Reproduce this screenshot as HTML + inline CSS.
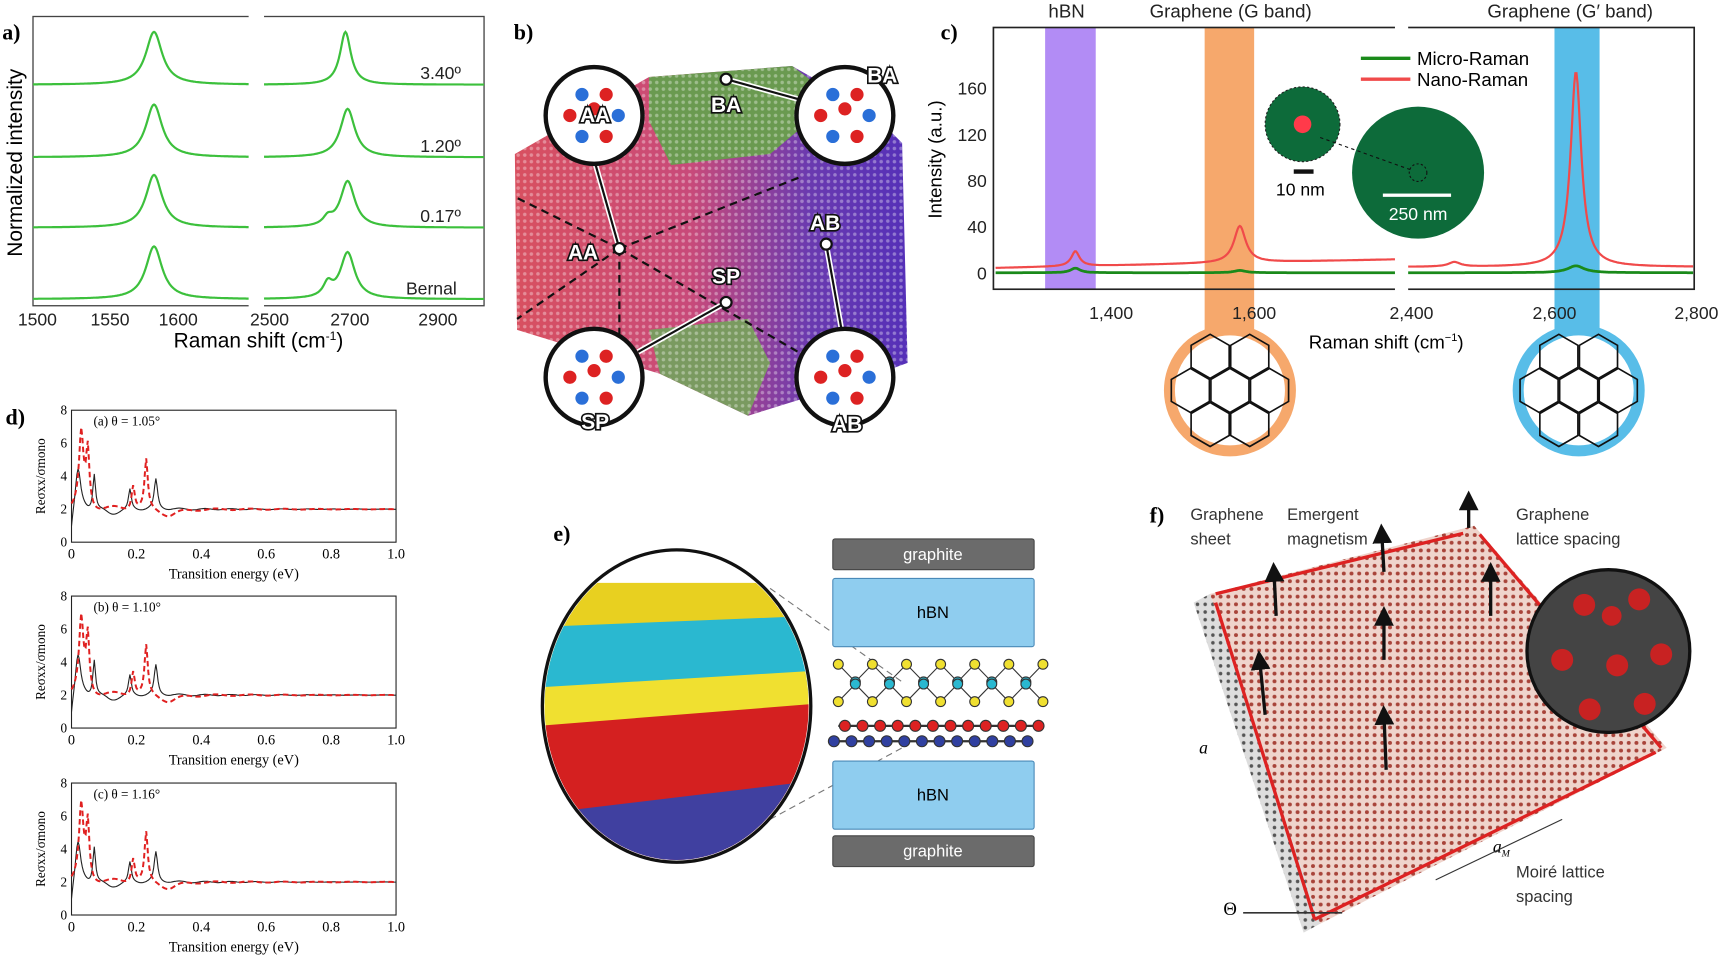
<!DOCTYPE html>
<html><head><meta charset="utf-8"><style>
html,body{margin:0;padding:0;background:#fff;width:1725px;height:959px;overflow:hidden}
svg{display:block}
text{font-family:"Liberation Sans",sans-serif}
.s{font-family:"Liberation Serif",serif}
</style></head><body>
<svg id="g" width="1725" height="959" viewBox="0 0 1568 872" preserveAspectRatio="none" xmlns="http://www.w3.org/2000/svg">
<defs>
<pattern id="dots" width="6" height="6" patternUnits="userSpaceOnUse"><circle cx="3" cy="3" r="1.6" fill="#fff" opacity="0.35"/></pattern>
<pattern id="pk" width="7" height="7" patternUnits="userSpaceOnUse"><rect width="7" height="7" fill="#efd4cc"/><circle cx="3.5" cy="3.5" r="1.8" fill="#a8443a"/></pattern>
<pattern id="gr" width="7" height="7" patternUnits="userSpaceOnUse"><rect width="7" height="7" fill="#ddd"/><circle cx="3.5" cy="3.5" r="1.6" fill="#555"/></pattern>
<linearGradient id="hx" x1="0" x2="1" y1="0" y2="0"><stop offset="0" stop-color="#d85060"/><stop offset="0.45" stop-color="#c84a7a"/><stop offset="0.75" stop-color="#6a3ab0"/><stop offset="1" stop-color="#5530b8"/></linearGradient>
<marker id="ah" markerWidth="6" markerHeight="6" refX="3" refY="3" orient="auto"><path d="M0,0 L6,3 L0,6 Z" fill="#111"/></marker>
</defs>
<!-- panel a -->
<text x="2" y="36" class="s" font-size="20" font-weight="bold">a)</text>
<rect x="30" y="15" width="410" height="263" fill="none" stroke="#444" stroke-width="1.2"/>
<rect x="226" y="10" width="14" height="272" fill="#fff"/>
<g id="acurves"></g>
<g font-size="16" fill="#222"><text x="382" y="72">3.40º</text><text x="382" y="138">1.20º</text><text x="382" y="202">0.17º</text><text x="369" y="268">Bernal</text></g>
<g font-size="16" fill="#222" text-anchor="middle"><text x="34" y="296">1500</text><text x="100" y="296">1550</text><text x="162" y="296">1600</text><text x="245" y="296">2500</text><text x="318" y="296">2700</text><text x="398" y="296">2900</text></g>
<text x="235" y="316" font-size="19" text-anchor="middle">Raman shift (cm<tspan font-size="11" dy="-7">-1</tspan><tspan dy="7">)</tspan></text>
<text transform="translate(20,148) rotate(-90)" font-size="19" text-anchor="middle">Normalized intensity</text>
<!-- panel b -->
<text x="467" y="36" class="s" font-size="20" font-weight="bold">b)</text>
<polygon points="590,70 720,60 790,100 820,130 825,330 770,350 680,378 600,340 470,300 468,140" fill="url(#hx)"/>
<polygon points="590,70 720,60 760,90 700,140 610,150 590,110" fill="#6a9a50"/>
<polygon points="590,300 680,290 700,330 680,378 600,340" fill="#7a9a60"/>
<polygon points="590,70 720,60 790,100 820,130 825,330 770,350 680,378 600,340 470,300 468,140" fill="url(#dots)"/>
<g stroke="#111" stroke-width="2" stroke-dasharray="7,5" fill="none"><line x1="563" y1="226" x2="470" y2="180"/><line x1="563" y1="226" x2="470" y2="290"/><line x1="563" y1="226" x2="730" y2="160"/><line x1="563" y1="226" x2="760" y2="340"/><line x1="563" y1="226" x2="563" y2="370"/></g>
<g stroke="#fff" stroke-width="5"><line x1="540" y1="145" x2="563" y2="226"/><line x1="660" y1="72" x2="725" y2="90"/><line x1="660" y1="275" x2="580" y2="320"/><line x1="751" y1="222" x2="765" y2="300"/></g>
<g stroke="#111" stroke-width="2"><line x1="540" y1="145" x2="563" y2="226"/><line x1="660" y1="72" x2="725" y2="90"/><line x1="660" y1="275" x2="580" y2="320"/><line x1="751" y1="222" x2="765" y2="300"/></g>
<g fill="#fff" stroke="#111" stroke-width="2"><circle cx="563" cy="226" r="5"/><circle cx="660" cy="72" r="5"/><circle cx="660" cy="275" r="5"/><circle cx="751" cy="222" r="5"/></g>
<g id="bcirc"></g>
<g font-size="19" font-weight="bold" fill="#fff" stroke="#111" stroke-width="3" paint-order="stroke" text-anchor="middle">
<text x="541" y="111">AA</text><text x="802" y="75">BA</text><text x="660" y="102">BA</text><text x="530" y="236">AA</text><text x="660" y="258">SP</text><text x="750" y="209">AB</text><text x="541" y="390">SP</text><text x="770" y="392">AB</text></g>
<!-- panel c -->
<text x="855" y="36" class="s" font-size="20" font-weight="bold">c)</text>
<rect x="950" y="25" width="46" height="238" fill="#b28cf5"/>
<rect x="1095" y="25" width="45" height="238" fill="#f6a86c"/>
<rect x="1413" y="25" width="41" height="238" fill="#58bde8"/>
<rect x="1095" y="262" width="45" height="40" fill="#f6a86c"/>
<rect x="1413" y="262" width="41" height="40" fill="#58bde8"/>
<circle cx="1118" cy="355" r="55" fill="#fff" stroke="#f6a86c" stroke-width="10"/>
<circle cx="1435" cy="355" r="55" fill="#fff" stroke="#58bde8" stroke-width="10"/>
<g id="hexes"></g>
<rect x="903" y="25" width="637" height="238" fill="none" stroke="#222" stroke-width="1.5"/>
<rect x="1268" y="20" width="12" height="250" fill="#fff"/>
<g id="ccurves"></g>
<g font-size="17" fill="#222"><text x="953" y="16">hBN</text><text x="1045" y="16">Graphene (G band)</text><text x="1352" y="16">Graphene (G′ band)</text></g>
<g font-size="16" fill="#222" text-anchor="end"><text x="897" y="86">160</text><text x="897" y="128">120</text><text x="897" y="170">80</text><text x="897" y="212">40</text><text x="897" y="254">0</text></g>
<g font-size="16" fill="#222" text-anchor="middle"><text x="1010" y="290">1,400</text><text x="1140" y="290">1,600</text><text x="1283" y="290">2,400</text><text x="1413" y="290">2,600</text><text x="1542" y="290">2,800</text></g>
<text x="1260" y="317" font-size="17" text-anchor="middle">Raman shift (cm<tspan font-size="10" dy="-7">−1</tspan><tspan dy="7">)</tspan></text>
<text transform="translate(856,145) rotate(-90)" font-size="17" text-anchor="middle">Intensity (a.u.)</text>
<line x1="1237" y1="53" x2="1282" y2="53" stroke="#1a8a1a" stroke-width="3"/><text x="1288" y="59" font-size="17">Micro-Raman</text>
<line x1="1237" y1="72" x2="1282" y2="72" stroke="#f04a4a" stroke-width="3"/><text x="1288" y="78" font-size="17">Nano-Raman</text>
<circle cx="1184" cy="113" r="34" fill="#0d6b3a" stroke="#222" stroke-dasharray="2,2"/>
<circle cx="1184" cy="113" r="8" fill="#ff3a4a"/>
<circle cx="1289" cy="157" r="60" fill="#0d6b3a"/>
<circle cx="1289" cy="157" r="8" fill="none" stroke="#111" stroke-dasharray="2,2"/>
<line x1="1200" y1="125" x2="1284" y2="155" stroke="#111" stroke-dasharray="3,3"/>
<rect x="1176" y="154" width="18" height="4" fill="#111"/>
<text x="1182" y="178" font-size="16" text-anchor="middle">10 nm</text>
<rect x="1257" y="176" width="62" height="3" fill="#fff"/>
<text x="1289" y="200" font-size="16" fill="#fff" text-anchor="middle">250 nm</text>
<!-- panel d -->
<text x="5" y="386" class="s" font-size="20" font-weight="bold">d)</text>
<g id="dplots"></g>
<!-- panel e -->
<text x="503" y="492" class="s" font-size="20" font-weight="bold">e)</text>
<g stroke="#777" stroke-dasharray="6,4"><line x1="700" y1="535" x2="820" y2="620"/><line x1="700" y1="745" x2="820" y2="680"/></g>
<ellipse cx="615" cy="642" rx="122" ry="142" fill="#fff" stroke="#111" stroke-width="3"/>
<clipPath id="ec"><ellipse cx="615" cy="642" rx="120" ry="140"/></clipPath>
<g clip-path="url(#ec)">
<rect x="490" y="500" width="260" height="290" fill="#fff"/>
<polygon points="490,530 740,530 740,600 490,620" fill="#e8d020"/>
<polygon points="490,570 740,560 740,630 490,640" fill="#2ab8d0"/>
<polygon points="490,625 740,610 740,650 490,680" fill="#f0e030"/>
<polygon points="490,660 740,640 740,730 490,740" fill="#d42020"/>
<rect x="490" y="700" width="260" height="90" fill="#d42020"/>
<polygon points="490,740 740,710 740,790 490,790" fill="#4040a0"/>
</g>
<rect x="757" y="490" width="183" height="28" rx="2" fill="#6b6b6b" stroke="#444"/><text x="848" y="509" font-size="15" fill="#fff" text-anchor="middle">graphite</text>
<rect x="757" y="526" width="183" height="62" rx="2" fill="#8fcdef" stroke="#4a8ab8"/><text x="848" y="562" font-size="15" text-anchor="middle">hBN</text>
<g id="elat"></g>
<rect x="757" y="692" width="183" height="62" rx="2" fill="#8fcdef" stroke="#4a8ab8"/><text x="848" y="728" font-size="15" text-anchor="middle">hBN</text>
<rect x="757" y="760" width="183" height="28" rx="2" fill="#6b6b6b" stroke="#444"/><text x="848" y="779" font-size="15" fill="#fff" text-anchor="middle">graphite</text>
<!-- panel f -->
<text x="1045" y="475" class="s" font-size="20" font-weight="bold">f)</text>
<polygon points="1085,548 1100,540 1200,840 1185,848" fill="url(#gr)"/>
<polygon points="1100,540 1340,478 1515,680 1200,840" fill="url(#pk)"/>
<g stroke="#d22" stroke-width="3" fill="#d22"><line x1="1105" y1="540" x2="1330" y2="485"/><line x1="1345" y1="486" x2="1510" y2="680"/><line x1="1195" y1="836" x2="1505" y2="684"/><line x1="1195" y1="836" x2="1105" y2="548"/></g>
<circle cx="1462" cy="592" r="74" fill="#444" stroke="#111" stroke-width="3"/>
<g fill="#c82222"><circle cx="1440" cy="550" r="10"/><circle cx="1490" cy="545" r="10"/><circle cx="1420" cy="600" r="10"/><circle cx="1470" cy="605" r="10"/><circle cx="1510" cy="595" r="10"/><circle cx="1445" cy="645" r="10"/><circle cx="1495" cy="640" r="10"/><circle cx="1465" cy="560" r="9"/></g>
<g stroke="#111" stroke-width="3" marker-end="url(#ah)"><line x1="1260" y1="700" x2="1258" y2="650"/><line x1="1150" y1="650" x2="1145" y2="600"/><line x1="1160" y1="560" x2="1158" y2="520"/><line x1="1258" y1="520" x2="1256" y2="485"/><line x1="1355" y1="560" x2="1355" y2="520"/><line x1="1258" y1="600" x2="1258" y2="560"/><line x1="1335" y1="480" x2="1335" y2="455"/></g>
<g font-size="15" fill="#333"><text x="1082" y="473">Graphene</text><text x="1082" y="495">sheet</text><text x="1170" y="473">Emergent</text><text x="1170" y="495">magnetism</text><text x="1378" y="473">Graphene</text><text x="1378" y="495">lattice spacing</text><text x="1378" y="798">Moiré lattice</text><text x="1378" y="820">spacing</text></g>
<text x="1090" y="685" class="s" font-size="16" font-style="italic">a</text>
<text x="1357" y="775" class="s" font-size="16" font-style="italic">a<tspan font-size="9" dy="4">M</tspan></text>
<text x="1112" y="832" class="s" font-size="17">Θ</text>
<line x1="1130" y1="830" x2="1220" y2="830" stroke="#333" stroke-width="1.5"/>
<line x1="1305" y1="800" x2="1420" y2="745" stroke="#333"/>
</svg>
<script>
var NS="http://www.w3.org/2000/svg";
function el(p,t,a){var e=document.createElementNS(NS,t);for(var k in a)e.setAttribute(k,a[k]);p.appendChild(e);return e}
function lor(x,c,w){return 1/(1+((x-c)/w)*((x-c)/w))}
var ga=document.getElementById('acurves');
[[77,1],[143,1],[207,2],[272,3]].forEach(function(b,i){
 var d="";for(var x=30;x<=226;x++){var y=b[0]-48*lor(x,140,9);d+=(x==30?"M":"L")+x+","+y.toFixed(1)}
 el(ga,'path',{d:d,fill:'none',stroke:'#3cc03c','stroke-width':2});
 d="";for(var x=240;x<=440;x++){var h;if(i==0)h=48*lor(x,314,6);else if(i==1)h=44*lor(x,316,8);else h=42*lor(x,316,8)+(b[1]==3?12:7)*lor(x,298,5);d+=(x==240?"M":"L")+x+","+(b[0]-h).toFixed(1)}
 el(ga,'path',{d:d,fill:'none',stroke:'#3cc03c','stroke-width':2});
});
var gb=document.getElementById('bcirc');
[[540,105],[768,105],[540,343],[768,343]].forEach(function(c){
 el(gb,'circle',{cx:c[0],cy:c[1],r:44,fill:'#fff',stroke:'#111','stroke-width':4});
 for(var k=0;k<6;k++){var a=k*Math.PI/3;el(gb,'circle',{cx:c[0]+22*Math.cos(a),cy:c[1]+22*Math.sin(a),r:6,fill:k%2?'#d22':'#2a6fd8'})}
 el(gb,'circle',{cx:c[0],cy:c[1]-6,r:6,fill:'#d22'});
});
var gc=document.getElementById('ccurves');
var base=248;
var d="",g="";for(var x=905;x<=1268;x++){var v=1400+(x-1010)/0.65;var r=5+4*(v-1300)/300+13*lor(v,1350,7)+32*lor(v,1580,10);var gg=4*lor(v,1350,8)+2*lor(v,1580,10);d+=(x==905?"M":"L")+x+","+(base-r*1.044).toFixed(1);g+=(x==905?"M":"L")+x+","+(base-gg*1.044).toFixed(1)}
el(gc,'path',{d:g,fill:'none',stroke:'#1a8a1a','stroke-width':2.5});el(gc,'path',{d:d,fill:'none',stroke:'#f04a4a','stroke-width':2});
d="";g="";for(var x=1280;x<=1539;x++){var v=2400+(x-1283)/0.65;var r=5+4*lor(v,2460,10)+170*lor(v,2630,9);var gg=6*lor(v,2630,14);d+=(x==1280?"M":"L")+x+","+(base-r*1.044).toFixed(1);g+=(x==1280?"M":"L")+x+","+(base-gg*1.044).toFixed(1)}
el(gc,'path',{d:g,fill:'none',stroke:'#1a8a1a','stroke-width':2.5});el(gc,'path',{d:d,fill:'none',stroke:'#f04a4a','stroke-width':2});
var gh=document.getElementById('hexes');
[[1118,355],[1435,355]].forEach(function(c){
 for(var i=-2;i<=2;i++)for(var j=-2;j<=2;j++){var hx=c[0]+i*36+(j%2?18:0),hy=c[1]+j*31;if(Math.hypot(hx-c[0],hy-c[1])>55)continue;var p="";for(var k=0;k<6;k++){var a=Math.PI/6+k*Math.PI/3;p+=(hx+20*Math.cos(a)).toFixed(1)+","+(hy+20*Math.sin(a)).toFixed(1)+" "}el(gh,'polygon',{points:p,fill:'none',stroke:'#111','stroke-width':1.5})}
});
var gd=document.getElementById('dplots');
var tops=[373,542,712],labs=["(a)  θ = 1.05°","(b)  θ = 1.10°","(c)  θ = 1.16°"];
tops.forEach(function(t,n){
 var L=65,R=360,B=t+120,H=120;
 el(gd,'rect',{x:L,y:t,width:R-L,height:H,fill:'none',stroke:'#222'});
 function X(e){return L+e*(R-L)} function Y(v){return B-v*H/8}
 for(var v=0;v<=8;v+=2){var tx=el(gd,'text',{x:L-4,y:Y(v)+4,'font-size':12,'text-anchor':'end','class':'s'});tx.textContent=v;}
 for(var e=0;e<=10;e+=2){var tx=el(gd,'text',{x:X(e/10),y:B+15,'font-size':13,'text-anchor':'middle','class':'s'});tx.textContent=e==0?"0":e==10?"1.0":"0."+e;}
 var tx=el(gd,'text',{x:(L+R)/2,y:B+33,'font-size':13,'text-anchor':'middle','class':'s'});tx.textContent="Transition energy (eV)";
 tx=el(gd,'text',{transform:'translate('+(L-24)+','+(t+60)+') rotate(-90)','font-size':12,'text-anchor':'middle','class':'s'});tx.textContent="Reσxx/σmono";
 tx=el(gd,'text',{x:L+20,y:t+14,'font-size':12,'class':'s'});tx.textContent=labs[n];
 var db="",dr="";for(var i=0;i<=300;i++){var e=i/300;var bl=2+2.5*lor(e,0.02,0.01)+2.2*lor(e,0.07,0.005)+1.2*lor(e,0.18,0.005)+1.8*lor(e,0.26,0.006)-1.5*Math.exp(-e/0.01)-0.3*lor(e,0.12,0.03)+0.15*Math.sin(e*80)*Math.exp(-e*3);
 var rd=2+4.5*lor(e,0.03,0.008)+3.5*lor(e,0.05,0.006)+1.5*lor(e,0.19,0.006)+3*lor(e,0.23,0.006)-0.4*lor(e,0.3,0.03)+0.2*Math.sin(e*60)*Math.exp(-e*3);
 bl=Math.min(8,Math.max(0,bl));rd=Math.min(8,Math.max(0,rd));db+=(i?"L":"M")+X(e).toFixed(1)+","+Y(bl).toFixed(1);dr+=(i?"L":"M")+X(e).toFixed(1)+","+Y(rd).toFixed(1)}
 el(gd,'path',{d:db,fill:'none',stroke:'#222','stroke-width':1});el(gd,'path',{d:dr,fill:'none',stroke:'#e02020','stroke-width':1.8,'stroke-dasharray':'5,3'});
});
var ge=document.getElementById('elat');
var zz="";for(var i=0;i<=12;i++){var x=762+i*15.5;zz+=(i?"L":"M")+x+","+(i%2?620:604)}
el(ge,'path',{d:zz,fill:'none',stroke:'#333'});zz="";for(var i=0;i<=12;i++){var x=762+i*15.5;zz+=(i?"L":"M")+x+","+(i%2?622:638)}el(ge,'path',{d:zz,fill:'none',stroke:'#333'});
for(var i=0;i<=12;i++){var x=762+i*15.5;el(ge,'circle',{cx:x,cy:i%2?620:604,r:4.5,fill:i%2?'#2ab8d0':'#f0e030',stroke:'#333'});el(ge,'circle',{cx:x,cy:i%2?622:638,r:4.5,fill:i%2?'#2ab8d0':'#f0e030',stroke:'#333'})}
el(ge,'line',{x1:762,y1:660,x2:945,y2:660,stroke:'#333','stroke-width':2});el(ge,'line',{x1:755,y1:674,x2:935,y2:674,stroke:'#333','stroke-width':2});
for(var i=0;i<=11;i++){el(ge,'circle',{cx:768+i*16,cy:660,r:5,fill:'#d22',stroke:'#333'});el(ge,'circle',{cx:758+i*16,cy:674,r:5,fill:'#3040a0',stroke:'#333'})}
</script>
</body></html>
